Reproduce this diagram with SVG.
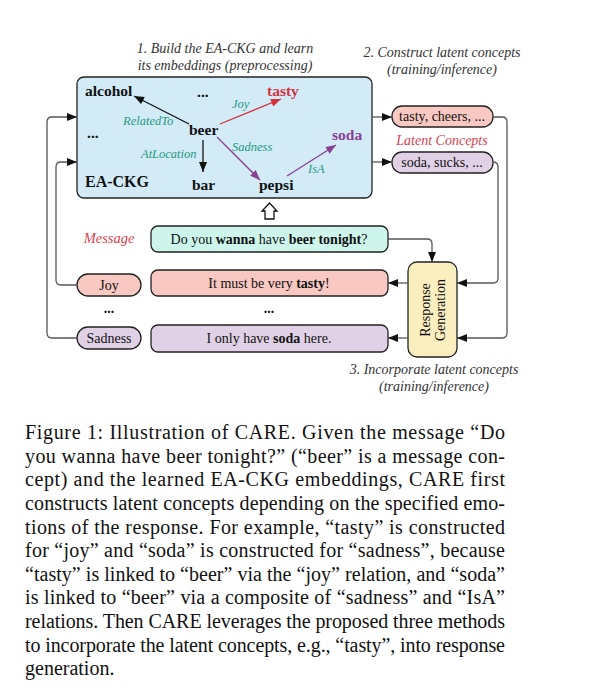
<svg xmlns="http://www.w3.org/2000/svg" width="595" height="690" viewBox="0 0 595 690">
<style>
text{font-family:"Liberation Serif","Times New Roman",serif;fill:#111}
.ti{font-style:italic;font-size:14px;fill:#333;text-anchor:middle}
.nd{font-weight:bold;font-size:15.5px}
.el{font-style:italic;font-size:12.5px;fill:#1f9a80}
.bx{stroke:#222;stroke-width:1.3}
.bt{font-size:14px;text-anchor:middle}
.ln{fill:none;stroke:#555;stroke-width:1.3}
.cap{font-size:20px}
</style>
<defs>
<marker id="ak" viewBox="0 0 10 8" refX="10" refY="4" markerWidth="11" markerHeight="8" markerUnits="userSpaceOnUse" orient="auto"><path d="M0,0L10,4L0,8z" fill="#111"/></marker>
<marker id="ar" viewBox="0 0 10 8" refX="10" refY="4" markerWidth="11" markerHeight="8" markerUnits="userSpaceOnUse" orient="auto"><path d="M0,0L10,4L0,8z" fill="#d6303c"/></marker>
<marker id="ap" viewBox="0 0 10 8" refX="10" refY="4" markerWidth="11" markerHeight="8" markerUnits="userSpaceOnUse" orient="auto"><path d="M0,0L10,4L0,8z" fill="#8a3f94"/></marker>
</defs>

<text class="ti" x="225" y="53">1. Build the EA-CKG and learn</text>
<text class="ti" x="225" y="70">its embeddings (preprocessing)</text>
<text class="ti" x="442" y="57">2. Construct latent concepts</text>
<text class="ti" x="442" y="74">(training/inference)</text>

<g id="eackg">
<rect class="bx" x="77" y="77" width="295" height="121" rx="7" fill="#d2ebf7"/>
<text class="nd" x="85" y="96">alcohol</text>
<text class="nd" x="197" y="97">...</text>
<text class="nd" x="267" y="96" style="fill:#d6303c">tasty</text>
<text class="nd" x="189" y="135">beer</text>
<text class="nd" x="87" y="138">...</text>
<text class="nd" x="332" y="140" style="fill:#8a3f94">soda</text>
<text class="nd" x="85" y="187" style="font-size:16px">EA-CKG</text>
<text class="nd" x="192" y="190">bar</text>
<text class="nd" x="259" y="190">pepsi</text>
<text class="el" x="232" y="108">Joy</text>
<text class="el" x="123" y="125">RelatedTo</text>
<text class="el" x="232" y="151">Sadness</text>
<text class="el" x="141" y="158">AtLocation</text>
<text class="el" x="308" y="173">IsA</text>
</g>

<g id="latent">
<rect class="bx" x="392" y="106" width="101" height="21" rx="10" fill="#f9c8c2"/>
<text class="bt" x="442" y="121">tasty, cheers, ...</text>
<text x="442" y="145" style="font-style:italic;font-size:14px;fill:#d9434f;text-anchor:middle">Latent Concepts</text>
<rect class="bx" x="392" y="152" width="101" height="21" rx="10" fill="#e1d1e6"/>
<text class="bt" x="442" y="167">soda, sucks, ...</text>
</g>

<g id="msg">
<text x="109" y="243" style="font-style:italic;font-size:14.5px;fill:#d9434f;text-anchor:middle">Message</text>
<rect class="bx" x="151" y="226" width="237" height="26" rx="7" fill="#cdf5ec"/>
<text class="bt" x="269" y="244">Do you <tspan font-weight="bold">wanna</tspan> have <tspan font-weight="bold">beer tonight</tspan>?</text>
</g>

<g id="joy">
<rect class="bx" x="77" y="274" width="64" height="22" rx="11" fill="#f9c8c2"/>
<text class="bt" x="109" y="290">Joy</text>
<rect class="bx" x="151" y="270" width="237" height="26" rx="7" fill="#f9c8c2"/>
<text class="bt" x="269" y="288">It must be very <tspan font-weight="bold">tasty</tspan>!</text>
</g>
<text class="bt" x="109" y="313" font-weight="bold">...</text>
<text class="bt" x="269" y="313" font-weight="bold">...</text>
<g id="sadness">
<rect class="bx" x="77" y="327" width="64" height="22" rx="11" fill="#e1d1e6"/>
<text class="bt" x="109" y="343">Sadness</text>
<rect class="bx" x="151" y="325" width="237" height="27" rx="7" fill="#e1d1e6"/>
<text class="bt" x="269" y="343">I only have <tspan font-weight="bold">soda</tspan> here.</text>
</g>

<g id="respgen">
<rect class="bx" x="408" y="262" width="49" height="95" rx="9" fill="#fbefc0"/>
<text class="bt" transform="translate(432,310) rotate(-90)" x="0" y="-2">Response</text>
<text class="bt" transform="translate(432,310) rotate(-90)" x="0" y="13">Generation</text>
</g>

<text class="ti" x="434" y="374">3. Incorporate latent concepts</text>
<text class="ti" x="434" y="391">(training/inference)</text>

<g id="connectors">
<path d="M189,124L134,96" stroke="#111" stroke-width="1.3" fill="none" marker-end="url(#ak)"/>
<path d="M220,124L281,99" stroke="#d6303c" stroke-width="1.3" fill="none" marker-end="url(#ar)"/>
<path d="M203,140V172" stroke="#111" stroke-width="1.3" fill="none" marker-end="url(#ak)"/>
<path d="M217,137L260,180" stroke="#8a3f94" stroke-width="1.3" fill="none" marker-end="url(#ap)"/>
<path d="M287,176L336,145" stroke="#8a3f94" stroke-width="1.3" fill="none" marker-end="url(#ap)"/>
<path d="M265,219V211H262L269.5,203L277,211H274V219Z" fill="#fff" stroke="#111" stroke-width="1.3"/>
<path class="ln" d="M372,117H392" marker-end="url(#ak)"/>
<path class="ln" d="M372,162H392" marker-end="url(#ak)"/>
<path class="ln" d="M493,117H502Q507,117 507,122V333Q507,338 502,338H457" marker-end="url(#ak)"/>
<path class="ln" d="M493,162Q498,162 498,167V278Q498,283 493,283H457" marker-end="url(#ak)"/>
<path class="ln" d="M388,239H427Q432,239 432,244V262" marker-end="url(#ak)"/>
<path class="ln" d="M408,283H388" marker-end="url(#ak)"/>
<path class="ln" d="M408,338H388" marker-end="url(#ak)"/>
<path class="ln" d="M77,285H61Q56,285 56,280V167Q56,162 61,162H77" marker-end="url(#ak)"/>
<path class="ln" d="M77,338H52Q47,338 47,333V122Q47,117 52,117H77" marker-end="url(#ak)"/>
</g>

<g id="caption">
<text class="cap" x="25" y="439" textLength="480" lengthAdjust="spacing">Figure 1: Illustration of CARE. Given the message “Do</text>
<text class="cap" x="25" y="463" textLength="480" lengthAdjust="spacing">you wanna have beer tonight?” (“beer” is a message con-</text>
<text class="cap" x="25" y="486" textLength="480" lengthAdjust="spacing">cept) and the learned EA-CKG embeddings, CARE first</text>
<text class="cap" x="25" y="510" textLength="480" lengthAdjust="spacing">constructs latent concepts depending on the specified emo-</text>
<text class="cap" x="25" y="534" textLength="480" lengthAdjust="spacing">tions of the response. For example, “tasty” is constructed</text>
<text class="cap" x="25" y="557" textLength="480" lengthAdjust="spacing">for “joy” and “soda” is constructed for “sadness”, because</text>
<text class="cap" x="25" y="581" textLength="480" lengthAdjust="spacing">“tasty” is linked to “beer” via the “joy” relation, and “soda”</text>
<text class="cap" x="25" y="604" textLength="480" lengthAdjust="spacing">is linked to “beer” via a composite of “sadness” and “IsA”</text>
<text class="cap" x="25" y="628" textLength="480" lengthAdjust="spacing">relations. Then CARE leverages the proposed three methods</text>
<text class="cap" x="25" y="652" textLength="480" lengthAdjust="spacing">to incorporate the latent concepts, e.g., “tasty”, into response</text>
<text class="cap" x="25" y="675">generation.</text>
</g>
</svg>
